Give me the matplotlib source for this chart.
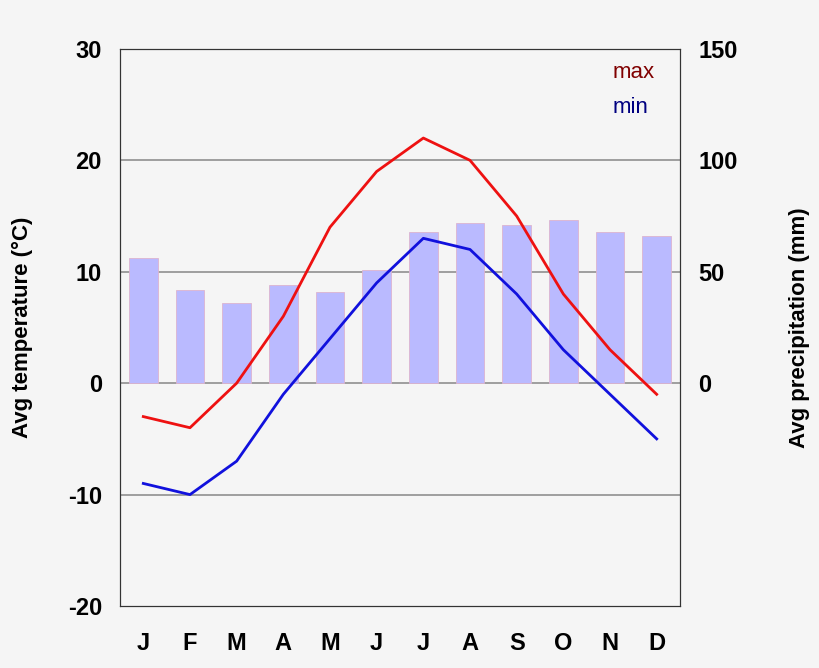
import numpy as np
import matplotlib.pyplot as plt

plt.rcParams['font.family'] = ['Liberation Sans', 'DejaVu Sans']
plt.rcParams['axes.unicode_minus'] = False

months = ['J', 'F', 'M', 'A', 'M', 'J', 'J', 'A', 'S', 'O', 'N', 'D']
t_max = [-3, -4, 0, 6, 14, 19, 22, 20, 15, 8, 3, -1]
t_min = [-9, -10, -7, -1, 4, 9, 13, 12, 8, 3, -1, -5]
precip = [56, 42, 36, 44, 41, 51, 68, 72, 71, 73, 68, 66]

x = np.arange(len(months))

fig = plt.figure(figsize=(8.2, 6.68), dpi=100, facecolor='#f5f5f5')
ax = fig.add_axes([0.1463, 0.0928, 0.683, 0.834])
ax2 = ax.twinx()

ax.set_zorder(ax2.get_zorder() + 1)
ax.patch.set_visible(False)
ax2.set_facecolor('#eeeefc')

ax2.bar(x, precip, width=0.62, color='#babaff', edgecolor='#dcb4d0', linewidth=0.6)
ax2.set_ylim(-100, 150)
ax2.set_yticks([0, 50, 100, 150])

for v in [-10, 0, 10, 20]:
    ax2.axhline(v * 5, color='#909090', lw=1.2, zorder=0.5)

ax.plot(x, t_max, color='#ee1111', lw=2)
ax.plot(x, t_min, color='#1111dd', lw=2)
ax.set_ylim(-20, 30)
ax.set_xlim(-0.5, 11.5)
ax.set_yticks([-20, -10, 0, 10, 20, 30])
ax.set_xticks(x)
ax.set_xticklabels(months)

for a in (ax, ax2):
    a.tick_params(length=0, labelsize=17, pad=13)
    for lab in a.get_xticklabels() + a.get_yticklabels():
        lab.set_fontweight('bold')
    for s in a.spines.values():
        s.set_color('#333333')
ax.tick_params(axis='x', pad=19)

ax.set_ylabel('Avg temperature (°C)', fontsize=16, fontweight='bold', labelpad=25)
ax2.set_ylabel('Avg precipitation (mm)', fontsize=16, fontweight='bold', labelpad=37)

ax.text(0.880, 0.957, 'max', transform=ax.transAxes, ha='left', va='center',
        color='#800000', fontsize=16)
ax.text(0.880, 0.894, 'min', transform=ax.transAxes, ha='left', va='center',
        color='#000080', fontsize=16)

fig.savefig('out.png', dpi=100, facecolor=fig.get_facecolor())
